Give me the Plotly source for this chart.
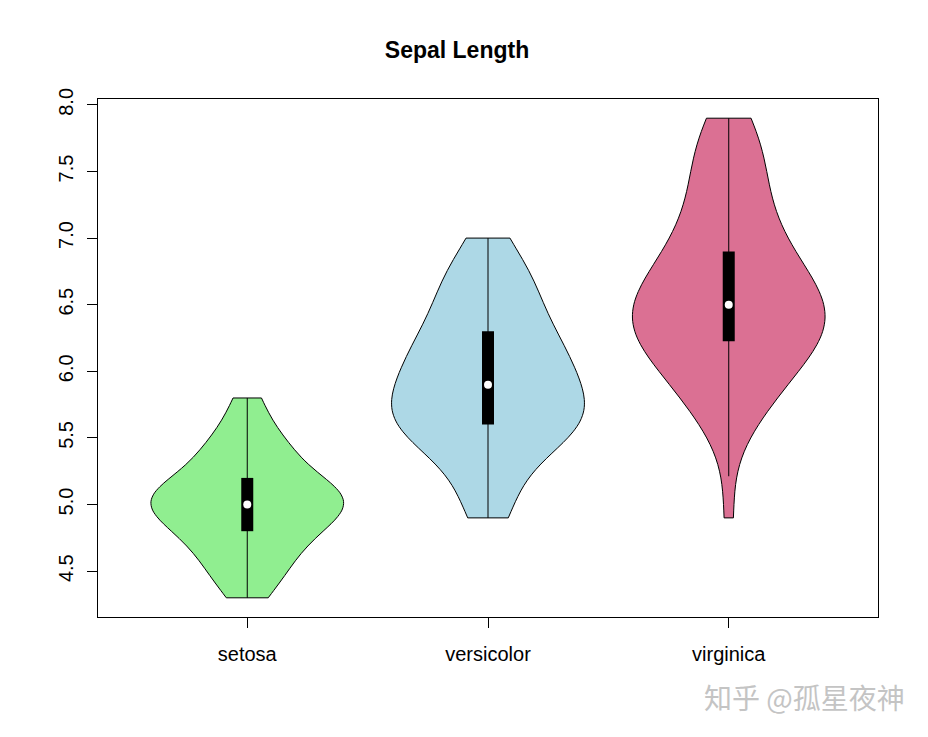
import numpy as np
import plotly.graph_objects as go

species = ["setosa", "versicolor", "virginica"]
colors = ["#90EE90", "#ADD8E6", "#DB7093"]

setosa = [5.1, 4.9, 4.7, 4.6, 5.0, 5.4, 4.6, 5.0, 4.4, 4.9,
          5.4, 4.8, 4.8, 4.3, 5.8, 5.7, 5.4, 5.1, 5.7, 5.1,
          5.4, 5.1, 4.6, 5.1, 4.8, 5.0, 5.0, 5.2, 5.2, 4.7,
          4.8, 5.4, 5.2, 5.5, 4.9, 5.0, 5.5, 4.9, 4.4, 5.1,
          5.0, 4.5, 4.4, 5.0, 5.1, 4.8, 5.1, 4.6, 5.3, 5.0]
versicolor = [7.0, 6.4, 6.9, 5.5, 6.5, 5.7, 6.3, 4.9, 6.6, 5.2,
              5.0, 5.9, 6.0, 6.1, 5.6, 6.7, 5.6, 5.8, 6.2, 5.6,
              5.9, 6.1, 6.3, 6.1, 6.4, 6.6, 6.8, 6.7, 6.0, 5.7,
              5.5, 5.5, 5.8, 6.0, 5.4, 6.0, 6.7, 6.3, 5.6, 5.5,
              5.5, 6.1, 5.8, 5.0, 5.6, 5.7, 5.7, 6.2, 5.1, 5.7]
virginica = [6.3, 5.8, 7.1, 6.3, 6.5, 7.6, 4.9, 7.3, 6.7, 7.2,
             6.5, 6.4, 6.8, 5.7, 5.8, 6.4, 6.5, 7.7, 7.7, 6.0,
             6.9, 5.6, 7.7, 6.3, 6.7, 7.2, 6.2, 6.1, 6.4, 7.2,
             7.4, 7.9, 6.4, 6.3, 6.1, 7.7, 6.3, 6.4, 6.0, 6.9,
             6.7, 6.9, 5.8, 6.8, 6.7, 6.7, 6.3, 6.5, 6.2, 5.9]
groups = [setosa, versicolor, virginica]

y_ticks = [4.5, 5.0, 5.5, 6.0, 6.5, 7.0, 7.5, 8.0]
y_ticktext = ["4.5", "5.0", "5.5", "6.0", "6.5", "7.0", "7.5", "8.0"]

fig = go.Figure()
for i, (name, data, col) in enumerate(zip(species, groups, colors), start=1):
    d = np.asarray(data, dtype=float)
    n = len(d)
    h = d.std(ddof=1) * (4.0 / (3.0 * n)) ** 0.2
    fig.add_trace(go.Violin(
        x=[i] * n, y=d, name=name, width=0.8, scalemode="width",
        spanmode="hard", bandwidth=h, points=False,
        box_visible=False, meanline_visible=False,
        fillcolor=col, opacity=1, line=dict(color="black", width=1),
        hoverinfo="skip", showlegend=False))
    q1, med, q3 = np.percentile(d, [25, 50, 75])
    iqr = q3 - q1
    lo = max(d.min(), q1 - 1.5 * iqr)
    hi = min(d.max(), q3 + 1.5 * iqr)
    fig.add_trace(go.Scatter(x=[i, i], y=[lo, hi], mode="lines",
                             line=dict(color="black", width=1),
                             hoverinfo="skip", showlegend=False))
    fig.add_trace(go.Scatter(x=[i, i], y=[q1, q3], mode="lines",
                             line=dict(color="black", width=12),
                             hoverinfo="skip", showlegend=False))
    fig.add_trace(go.Scatter(x=[i], y=[med], mode="markers",
                             marker=dict(color="white", size=8, line=dict(width=0)),
                             hoverinfo="skip", showlegend=False))

fig.update_layout(
    width=928, height=737,
    margin=dict(l=90, r=58, t=91, b=128),
    paper_bgcolor="white", plot_bgcolor="white",
    violinmode="overlay",
    font=dict(family="Liberation Sans, Arial", size=20, color="black"),
    title=dict(text="<b>Sepal Length</b>", x=449 / 928, xanchor="center",
               y=1 - 42 / 737, yanchor="middle",
               font=dict(size=23, family="Liberation Sans, Arial", color="black")),
    xaxis=dict(range=[0.38, 3.62], tickmode="array", tickvals=[1, 2, 3],
               ticktext=species, showgrid=False, zeroline=False,
               showline=True, mirror=True, linecolor="black", linewidth=1,
               ticks="outside", ticklen=10, tickcolor="black",
               ticklabelstandoff=9),
    yaxis=dict(range=[4.156, 8.044], tickmode="array", tickvals=y_ticks,
               ticktext=y_ticktext, tickangle=-90, showgrid=False, zeroline=False,
               showline=True, mirror=True, linecolor="black", linewidth=1,
               ticks="outside", ticklen=10, tickcolor="black",
               ticklabelstandoff=6),
    annotations=[dict(text="知乎 @孤星夜神", xref="paper", yref="paper",
                      x=(804 - 98) / 780, y=-(697 - 617) / 518,
                      xanchor="center", yanchor="middle", showarrow=False,
                      font=dict(family="Noto Sans CJK SC", size=28, color="#c4c4c4"))],
)

fig.write_html("out.html")
